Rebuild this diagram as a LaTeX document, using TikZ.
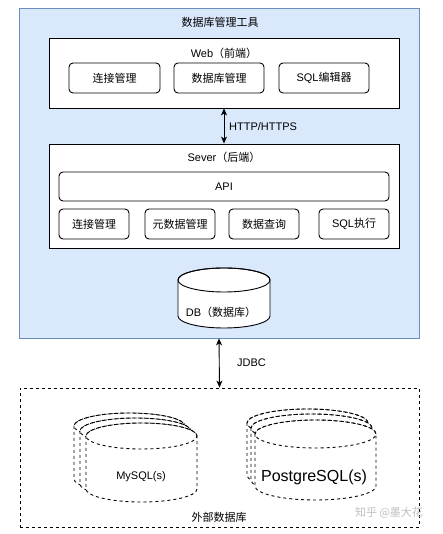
\documentclass[tikz,border=0pt]{standalone}
\usepackage{fontspec}
\setmainfont{Liberation Sans}
\newfontfamily\cjk{Noto Sans CJK SC}
\usetikzlibrary{arrows.meta}
\definecolor{bluefill}{HTML}{DAE8FC}
\definecolor{blueline}{HTML}{6C8EBF}
\newcommand\cylshape[6]{%
  \path[#6] (#1,{#2-#5}) -- (#1,{#2-#4+#5})
    arc[start angle=180,end angle=360,x radius={#3/2},y radius=#5]
    -- ({#1+#3},{#2-#5})
    arc[start angle=0,end angle=180,x radius={#3/2},y radius=#5] -- cycle;
  \draw[#6,fill=none] ({#1+#3/2},{#2-#5}) ellipse[x radius={#3/2},y radius=#5];}
\begin{document}
\begin{tikzpicture}[x=1pt,y=1pt,
  txt/.style={font=\fontsize{11}{13}\selectfont, inner sep=0pt},
  frame/.style={draw=black, line width=0.9pt, fill=white},
  rbox/.style={draw=black, line width=0.9pt, fill=white, rounded corners=4pt},
  dcyl/.style={draw=black, line width=0.9pt, dash pattern=on 3pt off 3pt, fill=white},
  scyl/.style={draw=black, line width=0.9pt, fill=white},
  biarrow/.style={line width=0.9pt, {Stealth[length=7pt,width=6pt,inset=2pt]}-{Stealth[length=7pt,width=6pt,inset=2pt]}}]
\useasboundingbox (0,0) rectangle (442,534);
% outer tool box
\node[draw=blueline, fill=bluefill, line width=0.8pt, minimum width=400pt, minimum height=330pt, inner sep=0pt] (tool) at (219,361) {};
\node[txt] (tooltitle) at (220,512) {\cjk 数据库管理工具};
% web
\node[frame, minimum width=350pt, minimum height=70pt, inner sep=0pt] (web) at (224,461) {};
\node[txt] (weblabel) at (224,481) {Web{\cjk （前端）}};
\node[rbox, txt, minimum width=91pt, minimum height=30pt] (w1) at (114.5,456) {\cjk 连接管理};
\node[rbox, txt, minimum width=90pt, minimum height=30pt] (w2) at (219,456) {\cjk 数据库管理};
\node[rbox, txt, minimum width=90pt, minimum height=30pt] (w3) at (324,456) {SQL{\cjk 编辑器}};
% server
\node[frame, minimum width=350pt, minimum height=104pt, inner sep=0pt] (sev) at (224,338) {};
\node[txt] (sevlabel) at (224,377) {Sever{\cjk （后端）}};
\node[rbox, txt, minimum width=330pt, minimum height=29pt] (api) at (224,347.5) {API};
\node[rbox, txt, minimum width=70pt, minimum height=30pt] (s1) at (94,310) {\cjk 连接管理};
\node[rbox, txt, minimum width=70pt, minimum height=30pt] (s2) at (180,310) {\cjk 元数据管理};
\node[rbox, txt, minimum width=70pt, minimum height=30pt] (s3) at (264,310) {\cjk 数据查询};
\node[rbox, txt, minimum width=70pt, minimum height=30pt] (s4) at (354,310) {SQL{\cjk 执行}};
\draw[biarrow] (web.south) -- (sev.north);
\node[txt, anchor=west] (http) at (229,407) {HTTP/HTTPS};
% DB cylinder
\cylshape{178}{266}{92}{60}{12}{scyl}
\node[txt] (db) at (221,222) {DB{\cjk （数据库）}};
% external
\node[draw=black, line width=0.9pt, dash pattern=on 3pt off 3pt, minimum width=399pt, minimum height=139pt, inner sep=0pt] (ext) at (219.5,76.5) {};
\draw[biarrow] (tool.south) -- (ext.north);
\node[txt, anchor=west] (jdbc) at (237,171) {JDBC};
\node[txt] (extlabel) at (219,17) {\cjk 外部数据库};
% MySQL stack
\cylshape{74}{121}{111}{79}{13}{dcyl}
\cylshape{80}{116}{111}{79}{13}{dcyl}
\cylshape{86}{111}{111}{79}{13}{dcyl}
\node[txt] (mysql) at (141,57) {MySQL(s)};
% PostgreSQL stack
\cylshape{247}{125}{121}{80}{14}{dcyl}
\cylshape{251}{120}{121}{80}{14}{dcyl}
\cylshape{255}{114}{121}{80}{14}{dcyl}
\node[font=\fontsize{16}{18}\selectfont, inner sep=0pt] (pg) at (314,57) {PostgreSQL(s)};
% watermark
\node[txt, text=black!25] (wm) at (389,21) {\cjk 知乎 @墨大花};
\end{tikzpicture}
\end{document}
